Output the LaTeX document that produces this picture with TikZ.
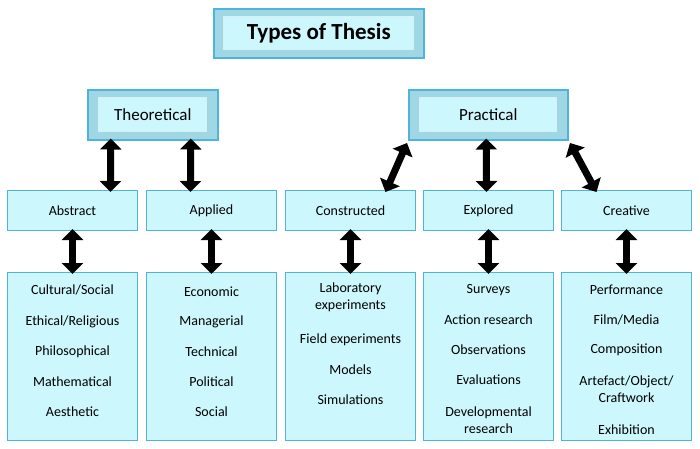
\documentclass[tikz,border=0pt]{standalone}
\usepackage{fontspec}
\setmainfont{Carlito}
\usetikzlibrary{arrows.meta}
\definecolor{boxfill}{HTML}{CCF7FC}
\definecolor{boxedge}{HTML}{4FB3DA}
\definecolor{bevel}{HTML}{9FD8E4}
\tikzset{x=1pt,y=-1pt,
 bx/.style={draw=boxedge,line width=1pt,fill=boxfill,inner sep=0pt,anchor=north west},
 bevelbox/.style={draw=boxedge,line width=1.5pt,fill=bevel,inner sep=0pt,anchor=north west},
 innerbox/.style={draw=white!60!bevel,line width=0.6pt,fill=boxfill,inner sep=0pt},
 dbl/.style={line width=7pt,{Triangle[width=21pt,length=11pt]}-{Triangle[width=21pt,length=11pt]}},
 lbl/.style={font=\fontsize{14}{17}\selectfont},
 itm/.style={font=\fontsize{14}{17}\selectfont,align=center}}
\begin{document}
\begin{tikzpicture}
\useasboundingbox (0,0) rectangle (700,448);
% title
\node[bevelbox,minimum width=210pt,minimum height=49pt] (title) at (213,8) {};
\node[innerbox,minimum width=190pt,minimum height=33pt] (titlein) at (title.center) {};
\node[font=\bfseries\fontsize{23}{26}\selectfont] at (title.center) {Types of Thesis};
% level 1
\node[bevelbox,minimum width=130pt,minimum height=50pt] (theo) at (87,89) {};
\node[innerbox,minimum width=108pt,minimum height=34pt] at (theo.center) {};
\node[font=\fontsize{17}{20}\selectfont] at (theo.center) {Theoretical};
\node[bevelbox,minimum width=159pt,minimum height=50pt] (prac) at (408,89) {};
\node[innerbox,minimum width=137pt,minimum height=34pt] at (prac.center) {};
\node[font=\fontsize{17}{20}\selectfont] at (prac.center) {Practical};
% level 2
\foreach \n/\x/\t in {abs/7/Abstract,app/146/Applied,con/285/Constructed,exp/423/Explored,cre/561/Creative}{
  \node[bx,minimum width=130pt,minimum height=40pt,lbl] (\n) at (\x,190) {\t};
  \node[bx,minimum width=130pt,minimum height=168pt] (\n L) at (\x,272) {};
  \draw[dbl] ([yshift=-2pt]\n L.north) -- ([yshift=2pt]\n.south);
}
\draw[dbl] ([xshift=-42pt,yshift=2pt]theo.south) -- ([xshift=38pt,yshift=-2pt]abs.north);
\draw[dbl] ([xshift=38pt,yshift=2pt]theo.south) -- ([xshift=-21pt,yshift=-2pt]app.north);
\coordinate (p1) at (407,143);
\draw[dbl] (p1) -- ([xshift=35pt,yshift=-2pt]con.north);
\draw[dbl] ([xshift=-2pt,yshift=2pt]prac.south) -- ([xshift=-2pt,yshift=-2pt]exp.north);
\coordinate (p3) at (570,143);
\draw[dbl] (p3) -- ([xshift=-30pt,yshift=-2pt]cre.north);
% items
\foreach \n/\y/\t in {absL/290/Cultural\slash Social,absL/322/Ethical\slash Religious,absL/352/Philosophical,absL/382/Mathematical,absL/412/Aesthetic,
 appL/292/Economic,appL/322/Managerial,appL/352/Technical,appL/382/Political,appL/412/Social,
 conL/297/{Laboratory\\experiments},conL/340/Field experiments,conL/370/Models,conL/400/Simulations,
 expL/290/Surveys,expL/320/Action research,expL/350/Observations,expL/380/Evaluations,expL/420/{Developmental\\research},
 creL/290/Performance,creL/320/Film\slash Media,creL/350/Composition,creL/389/{Artefact\slash Object\slash\\Craftwork},creL/430/Exhibition}{
  \node[itm] at (\n.north |- 0,\y) {\t};
}
\end{tikzpicture}
\end{document}
